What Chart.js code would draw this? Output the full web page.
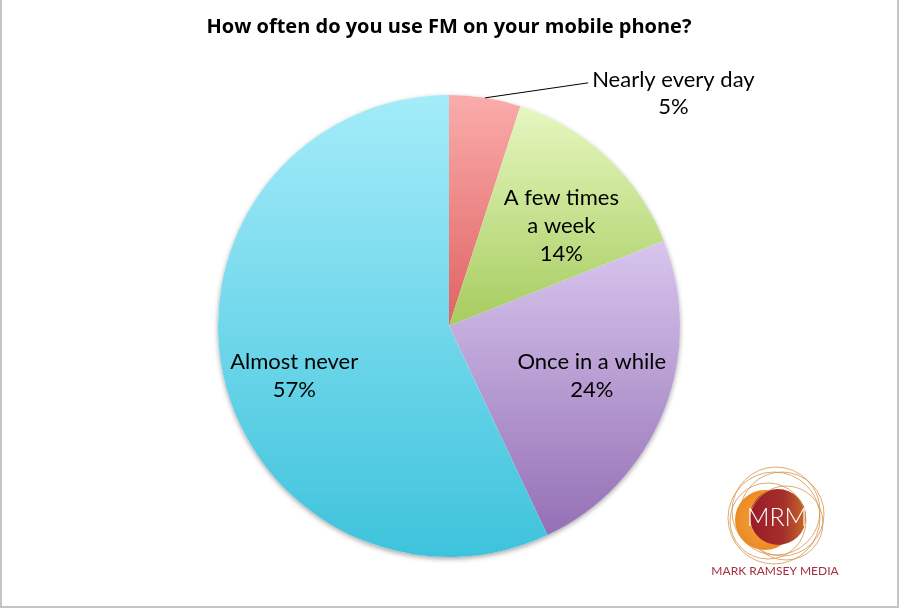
<!DOCTYPE html>
<html>
<head>
<meta charset="utf-8">
<script src="https://cdn.jsdelivr.net/npm/chart.js@4.4.0/dist/chart.umd.min.js"></script>
<style>
    body { margin: 0; background: #fff; }
    canvas { display: block; }
</style>
</head>
<body>
<canvas id="chart" width="901" height="610"></canvas>
<script>
const titleText = 'How often do you use FM on your mobile phone?';
const categories = ['Nearly every day', 'A few times a week', 'Once in a while', 'Almost never'];
const values = [5, 14, 24, 57];
const labelLines = [['Nearly every day'], ['A few times', 'a week'], ['Once in a while'], ['Almost never']];
const lightColors = ['#faacab', '#e6f7c0', '#d8c6ee', '#a4ecf9'];
const darkColors = ['#e06262', '#a6cc5e', '#9470b5', '#3ec3dc'];

const fontFamily = 'Lato, "Open Sans", sans-serif';
const titleFamily = '"Open Sans", Lato, sans-serif';

function sliceGradient(context) {
    const chart = context.chart;
    const area = chart.chartArea;
    const i = context.dataIndex;
    if (!area) return darkColors[i];
    const cx = (area.left + area.right) / 2;
    const cy = (area.top + area.bottom) / 2;
    const r = Math.min(area.width, area.height) / 2;
    const total = values.reduce((a, b) => a + b, 0);
    let before = 0;
    for (let k = 0; k < i; k++) before += values[k];
    const a0 = -Math.PI / 2 + 2 * Math.PI * before / total;
    const a1 = a0 + 2 * Math.PI * values[i] / total;
    let ymin = cy, ymax = cy;
    for (let k = 0; k <= 60; k++) {
        const y = cy + r * Math.sin(a0 + (a1 - a0) * k / 60);
        ymin = Math.min(ymin, y);
        ymax = Math.max(ymax, y);
    }
    const g = chart.ctx.createLinearGradient(0, ymin, 0, ymax);
    g.addColorStop(0, lightColors[i]);
    g.addColorStop(1, darkColors[i]);
    return g;
}

// soft shadow under the pie, drawn before the slices cover it
const pieShadow = {
    id: 'pieShadow',
    beforeDatasetsDraw(chart) {
        const el = chart.getDatasetMeta(0).data[0];
        if (!el) return;
        const ctx = chart.ctx;
        ctx.save();
        ctx.shadowColor = 'rgba(0,0,0,0.35)';
        ctx.shadowBlur = 5;
        ctx.shadowOffsetY = 2;
        ctx.fillStyle = '#ffffff';
        ctx.beginPath();
        ctx.arc(el.x, el.y, el.outerRadius, 0, Math.PI * 2);
        ctx.fill();
        ctx.restore();
    }
};

// label nudges, like Excel places them inside the slices
const labelNudge = [[0, 0], [8, 11], [1, -6], [-6, 17]];

const sliceLabels = {
    id: 'sliceLabels',
    afterDatasetsDraw(chart) {
        const ctx = chart.ctx;
        const arcs = chart.getDatasetMeta(0).data;
        ctx.save();
        ctx.font = '22px ' + fontFamily;
        ctx.fillStyle = '#000';
        ctx.textAlign = 'center';
        ctx.textBaseline = 'middle';
        const lh = 28;
        arcs.forEach((el, i) => {
            const lines = labelLines[i].concat([values[i] + '%']);
            const mid = (el.startAngle + el.endAngle) / 2;
            const r = el.outerRadius;
            if (i === 0) {
                // small slice: label outside with a leader line
                const ex = el.x + Math.cos(mid) * r;
                const ey = el.y + Math.sin(mid) * r;
                const lx = ex + 103;
                const ly = ey - 15;
                ctx.strokeStyle = '#000';
                ctx.lineWidth = 1;
                ctx.beginPath();
                ctx.moveTo(ex, ey);
                ctx.lineTo(lx, ly);
                ctx.stroke();
                const w = ctx.measureText(lines[0]).width;
                const tx = lx + 4 + w / 2;
                lines.forEach((t, k) => ctx.fillText(t, tx, ly - 3 + k * 27));
            } else {
                const d = r * 0.66;
                const px = el.x + Math.cos(mid) * d + labelNudge[i][0];
                const py = el.y + Math.sin(mid) * d + labelNudge[i][1];
                const y0 = py - (lines.length - 1) * lh / 2;
                lines.forEach((t, k) => ctx.fillText(t, px, y0 + k * lh));
            }
        });
        ctx.restore();
    }
};

// frame and brand mark in the lower right corner
const frameAndLogo = {
    id: 'frameAndLogo',
    afterDraw(chart) {
        const ctx = chart.ctx;
        ctx.save();
        ctx.strokeStyle = '#c4c4c4';
        ctx.lineWidth = 2;
        ctx.beginPath();
        ctx.moveTo(1, 0);
        ctx.lineTo(1, 607);
        ctx.lineTo(898, 607);
        ctx.lineTo(898, 0);
        ctx.stroke();

        const ox = 778, oy = 517;
        const og = ctx.createRadialGradient(ox - 14, oy + 4, 4, ox - 12, oy + 2, 30);
        og.addColorStop(0, '#f7a33a');
        og.addColorStop(1, '#ee8a22');
        ctx.fillStyle = og;
        ctx.beginPath();
        ctx.arc(ox - 13, oy + 3, 30, 0, Math.PI * 2);
        ctx.fill();
        const rg = ctx.createLinearGradient(ox - 28, 0, ox + 28, 0);
        rg.addColorStop(0, '#9a1a2a');
        rg.addColorStop(0.6, '#a5302a');
        rg.addColorStop(1, '#c66a2a');
        ctx.fillStyle = rg;
        ctx.beginPath();
        ctx.arc(ox, oy, 28, 0, Math.PI * 2);
        ctx.fill();

        ctx.strokeStyle = 'rgba(214,150,80,0.8)';
        ctx.lineWidth = 1;
        [[ox - 4, oy + 1, 46], [ox + 4, oy - 3, 42], [ox - 10, oy + 4, 38], [ox + 8, oy + 6, 37], [ox - 2, oy - 6, 44]].forEach(c => {
            ctx.beginPath();
            ctx.arc(c[0], c[1], c[2], 0, Math.PI * 2);
            ctx.stroke();
        });

        ctx.fillStyle = '#ffffff';
        ctx.font = '300 25px ' + fontFamily;
        ctx.textAlign = 'center';
        ctx.textBaseline = 'middle';
        ctx.fillText('MRM', ox - 1, oy + 1);

        ctx.fillStyle = '#a2303e';
        ctx.font = '12px ' + fontFamily;
        ctx.fillText('MARK RAMSEY MEDIA', ox - 3, 571);
        ctx.restore();
    }
};

const ctx = document.getElementById('chart').getContext('2d');
new Chart(ctx, {
    type: 'pie',
    data: {
        labels: categories,
        datasets: [{
            data: values,
            backgroundColor: sliceGradient,
            borderWidth: 0
        }]
    },
    options: {
        responsive: false,
        animation: false,
        layout: {
            padding: { left: 0, right: 3, top: 0, bottom: 53 }
        },
        plugins: {
            legend: { display: false },
            tooltip: { enabled: false },
            title: {
                display: true,
                text: titleText,
                color: '#000',
                font: { family: titleFamily, size: 20, weight: 'bold', lineHeight: 1.2 },
                padding: { top: 15, bottom: 56 }
            }
        }
    },
    plugins: [pieShadow, sliceLabels, frameAndLogo]
});
</script>
</body>
</html>
